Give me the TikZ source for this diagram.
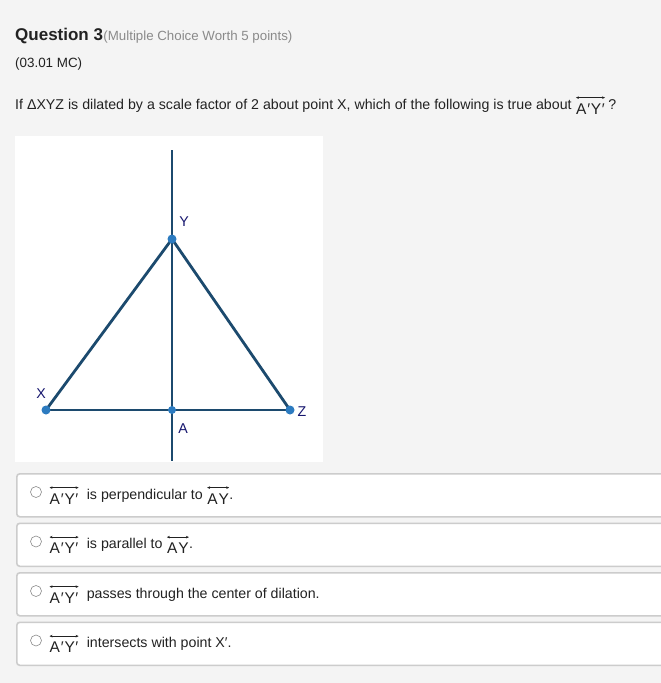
\documentclass[tikz,border=0pt]{standalone}
\usepackage{amsmath}
\usepackage{fontspec}
\setmainfont{Liberation Sans}
\usepackage{xcolor}
\usetikzlibrary{positioning}
\usetikzlibrary{arrows.meta}

\definecolor{pagegray}{HTML}{F4F4F4}
\definecolor{boxgray}{HTML}{CCCCCC}
\definecolor{radiogray}{HTML}{8C8C8C}
\definecolor{linenavy}{HTML}{1C4A6E}
\definecolor{dotblue}{HTML}{2C7BC0}
\definecolor{labelnavy}{HTML}{16166E}
\definecolor{subgray}{HTML}{8A8A8A}
\definecolor{textblack}{HTML}{222222}

% line with arrows both ways over a name
\newcommand{\lineover}[1]{\tikz[x=1cm,y=1cm,baseline={([yshift=5pt]lo.base)}]{%
  \node[inner sep=0pt,font=\fontsize{15.5}{17}\selectfont] (lo) {#1};
  \draw[<->,>={Stealth[length=3pt,width=2.6pt]},line width=0.6pt,textblack]
    ([yshift=5.5pt]lo.north west) -- ([yshift=5.5pt]lo.north east);}}
\newcommand{\ApYp}{A\kern0.8pt′\kern0.8pt Y\kern0.6pt′}
\newcommand{\AY}{A\kern1pt Y}

\begin{document}
\begin{tikzpicture}[
	x=1pt, y=-1pt,
	font=\fontsize{14.2}{17}\selectfont
]
\tikzset{
    plain/.style = {anchor=base west, inner sep=0pt, text=textblack},
    answerbox/.style = {rectangle, draw=boxgray, line width=1.6pt, fill=white, rounded corners=3pt,
        anchor=north west, minimum width=680, minimum height=43, inner sep=0pt},
    radio/.style = {circle, draw=radiogray, line width=0.6pt, fill=white, minimum size=11, inner sep=0pt},
    segline/.style = {draw=linenavy, line width=2.8pt},
    ptdot/.style = {circle, fill=dotblue, minimum size=9, inner sep=0pt},
    ptlabel/.style = {text=labelnavy, inner sep=0pt}
}
\fill[pagegray] (0,0) rectangle (661,683);
\useasboundingbox (0,0) rectangle (661,683);

\node[plain,font=\fontsize{17}{20}\selectfont\bfseries] (title) at (15,40) {Question 3};
\node[plain,text=subgray,font=\fontsize{13.3}{15}\selectfont] (worth) at (title.base east) {(Multiple Choice Worth 5 points)};
\node[plain,font=\fontsize{13.4}{15}\selectfont] (code) at (15,67) {(03.01 MC)};
\node[plain] (question) at (15,109) {If ΔXYZ is dilated by a scale factor of 2 about point X, which of the following is true about \lineover{\ApYp}\hspace{3pt}?};

% figure
\node[fill=white, anchor=north west, inner sep=0pt, minimum width=308, minimum height=326] (panel) at (15,136) {};
\coordinate (top) at (172,150);
\coordinate (bot) at (172,461);
\coordinate (X) at (46,410);
\coordinate (Y) at (172,239);
\coordinate (Z) at (290,410);
\coordinate (A) at (172,410);
\draw[segline] (top) -- (bot);
\draw[segline,line join=round] (X) -- (Y) -- (Z);
\draw[segline] (X) -- (Z);
\node[ptdot] (dX) at (X) {};
\node[ptdot] (dY) at (Y) {};
\node[ptdot] (dZ) at (Z) {};
\node[ptdot,minimum size=8] (dA) at (A) {};
\node[ptlabel] (lX) at (41,394) {X};
\node[ptlabel] (lY) at (184,222) {Y};
\node[ptlabel] (lZ) at (302,412) {Z};
\node[ptlabel] (lA) at (183,429) {A};

% answers
\begin{scope}
\clip (0,0) rectangle (661,683);
\node[answerbox] (opt1) at (16,473) {};
\node[answerbox] (opt2) at (16,522.5) {};
\node[answerbox] (opt3) at (16,572) {};
\node[answerbox] (opt4) at (16,621.5) {};
\end{scope}
\node[radio] (r1) at (36,492) {};
\node[radio] (r2) at (36,541.5) {};
\node[radio] (r3) at (36,591) {};
\node[radio] (r4) at (36,640.5) {};
\node[plain] (t1) at (49,499) {\lineover{\ApYp}\hspace{4pt} is perpendicular to \lineover{\AY}.};
\node[plain] (t2) at (49,548.5) {\lineover{\ApYp}\hspace{4pt} is parallel to \lineover{\AY}.};
\node[plain] (t3) at (49,598) {\lineover{\ApYp}\hspace{4pt} passes through the center of dilation.};
\node[plain] (t4) at (49,647.5) {\lineover{\ApYp}\hspace{4pt} intersects with point X′.};
\end{tikzpicture}
\end{document}
